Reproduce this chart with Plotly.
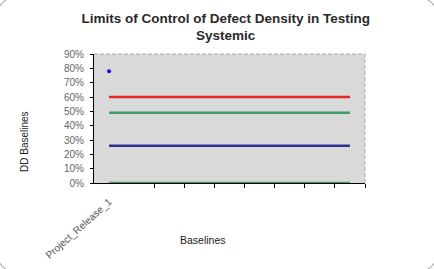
import plotly.graph_objects as go

categories = list(range(1, 10))
category_labels = ["Project_Release_1"]
dd_values = [0.78]
ucl = [0.60] * 9
upper_limit = [0.49] * 9
mean_line = [0.26] * 9
lcl = [0.0] * 9
y_ticks = [0, 0.1, 0.2, 0.3, 0.4, 0.5, 0.6, 0.7, 0.8, 0.9]
y_labels = ["0%", "10%", "20%", "30%", "40%", "50%", "60%", "70%", "80%", "90%"]

fig = go.Figure()
fig.add_trace(go.Scatter(x=categories, y=lcl, mode="lines", line=dict(color="#3d9a6c", width=2.5)))
fig.add_trace(go.Scatter(x=categories, y=mean_line, mode="lines", line=dict(color="#2e3192", width=2.5)))
fig.add_trace(go.Scatter(x=categories, y=upper_limit, mode="lines", line=dict(color="#3d9a6c", width=2.5)))
fig.add_trace(go.Scatter(x=categories, y=ucl, mode="lines", line=dict(color="#e8262a", width=2.5)))
fig.add_trace(go.Scatter(x=categories[:1], y=dd_values, mode="markers", marker=dict(color="#0a14e6", size=4)))

# plot area in pixels
L, R, T, B = 94, 365, 54, 183
W, H = R - L, B - T


def px(x):
    return (x - L) / W


def py(y):
    return (B - y) / H


def rounded_rect(x0, y0, x1, y1, r):
    return (f"M {px(x0 + r)} {py(y0)} L {px(x1 - r)} {py(y0)} "
            f"Q {px(x1)} {py(y0)} {px(x1)} {py(y0 + r)} L {px(x1)} {py(y1 - r)} "
            f"Q {px(x1)} {py(y1)} {px(x1 - r)} {py(y1)} L {px(x0 + r)} {py(y1)} "
            f"Q {px(x0)} {py(y1)} {px(x0)} {py(y1 - r)} L {px(x0)} {py(y0 + r)} "
            f"Q {px(x0)} {py(y0)} {px(x0 + r)} {py(y0)} Z")


font = "Liberation Sans, Arial, sans-serif"
fig.update_layout(
    width=434, height=269,
    margin=dict(l=L, r=434 - R, t=T, b=269 - B),
    paper_bgcolor="white",
    plot_bgcolor="#d9d9d9",
    showlegend=False,
    title=dict(text="<b>Limits of Control of Defect Density in Testing<br>Systemic</b>",
               x=0.52, xanchor="center", y=0.915, yanchor="top",
               font=dict(family=font, size=13.5, color="#2a2a2a")),
    font=dict(family=font, size=10, color="#555"),
    xaxis=dict(range=[0.5, 9.5], tickmode="array", tickvals=[1], ticktext=category_labels,
               tickangle=-42, ticks="", showgrid=False, zeroline=False, automargin=False,
               ticklabelstandoff=8,
               showline=True, linecolor="black", linewidth=1,
               tickfont=dict(size=10, color="#555"),
               minor=dict(tickmode="array", tickvals=[2.5, 3.5, 4.5, 5.5, 6.5, 7.5, 8.5, 9.5],
                          ticks="outside", ticklen=4, tickcolor="black", showgrid=False)),
    yaxis=dict(range=[0, 0.9], tickmode="array", tickvals=y_ticks, ticktext=y_labels,
               ticks="outside", ticklen=3, tickcolor="black", showgrid=False, zeroline=False,
               automargin=False, showline=True, linecolor="black", linewidth=1,
               ticklabelstandoff=4,
               tickfont=dict(size=10, color="#666")),
    annotations=[
        dict(text="Baselines", xref="paper", yref="paper", x=px(203), y=py(240),
             xanchor="center", yanchor="middle", showarrow=False,
             font=dict(family=font, size=10.5, color="#222")),
        dict(text="DD Baselines", xref="paper", yref="paper", x=px(24), y=py(142),
             xanchor="center", yanchor="middle", showarrow=False, textangle=-90,
             font=dict(family=font, size=10, color="#222")),
    ],
    shapes=[dict(type="line", xref="paper", yref="paper", x0=0, x1=1, y0=1, y1=1,
                 line=dict(color="#aaa", width=1, dash="4px,2px")),
            dict(type="line", xref="paper", yref="paper", x0=1, x1=1, y0=0, y1=1,
                 line=dict(color="#aaa", width=1, dash="4px,2px")),
            dict(type="path", xref="paper", yref="paper", path=rounded_rect(-3, -3, 437, 272, 22),
                 line=dict(color="#888", width=1))],
)
fig.write_html("out.html")
